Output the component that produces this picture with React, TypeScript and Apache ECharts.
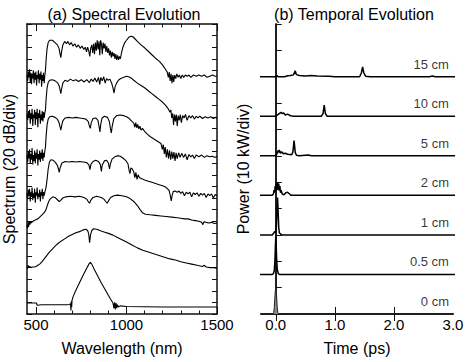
import React, { useEffect, useRef } from "react";
import * as echarts from "echarts";

const FONT = "Arial";

// ---- Panel (a): spectra, stacked, y in tick units (20 dB/div) ----
const wlMajor = [500, 1000, 1500];
const wlMinor = [600, 700, 800, 900, 1100, 1200, 1300, 1400];

const spec15: number[][] = [[450,20.6],[454,20.1],[457,20.9],[461,20.4],[464,21.1],[468,20.0],[471,20.8],[475,19.8],[478,20.7],[482,20.3],[485,21.0],[489,19.9],[492,20.8],[496,20.2],[499,20.9],[503,19.7],[506,20.6],[510,20.3],[513,21.0],[517,19.9],[520,20.7],[524,20.2],[527,20.9],[531,19.6],[534,20.6],[538,20.1],[541,20.8],[545,19.9],[548,20.5],[552,21.0],[556,22.0],[561,22.9],[567,23.4],[575,23.6],[590,23.6],[605,23.4],[618,23.2],[627,22.9],[633,22.4],[637,22.1],[641,22.6],[648,23.2],[658,23.5],[668,23.3],[676,23.5],[685,23.2],[694,23.4],[704,23.1],[714,23.3],[724,23.0],[734,23.2],[744,22.9],[754,23.1],[764,22.8],[772,23.0],[779,22.6],[785,23.0],[791,22.7],[797,22.2],[802,22.9],[808,23.2],[813,22.5],[818,23.3],[823,22.4],[828,23.4],[833,22.7],[838,23.6],[843,22.8],[848,23.5],[852,22.3],[857,23.6],[862,23.2],[866,22.4],[871,23.4],[876,22.9],[881,23.3],[886,22.6],[891,23.1],[896,22.5],[901,22.9],[906,22.3],[911,22.7],[916,22.1],[921,22.6],[926,22.2],[931,22.5],[936,22.0],[941,22.4],[946,21.9],[951,22.3],[956,21.9],[961,22.2],[966,22.0],[972,22.5],[980,23.0],[990,23.4],[1000,23.6],[1012,23.85],[1025,23.95],[1035,23.9],[1045,23.75],[1060,23.5],[1080,23.2],[1100,22.95],[1120,22.65],[1140,22.35],[1160,22.05],[1180,21.8],[1200,21.45],[1215,21.1],[1225,20.85],[1231,20.4],[1236,20.85],[1241,20.1],[1246,20.7],[1251,19.9],[1256,20.6],[1261,20.0],[1266,20.6],[1272,20.3],[1278,20.7],[1285,20.4],[1292,20.6],[1300,20.3],[1308,20.6],[1316,20.4],[1325,20.6],[1335,20.5],[1345,20.6],[1355,20.4],[1370,20.6],[1385,20.5],[1400,20.6],[1415,20.5],[1430,20.6],[1445,20.4],[1460,20.5],[1475,20.6],[1490,20.5],[1500,20.5]];

const spec10: number[][] = [[450,17.2],[454,16.7],[457,17.5],[461,16.9],[464,17.6],[468,16.4],[471,17.3],[475,16.8],[478,17.7],[482,16.2],[485,17.2],[489,16.9],[492,17.6],[496,16.3],[499,17.4],[503,16.8],[506,17.7],[510,16.1],[513,17.3],[517,16.9],[520,17.6],[524,16.4],[527,17.2],[531,16.7],[534,17.5],[538,16.6],[541,17.4],[545,16.9],[548,17.3],[552,17.6],[556,18.6],[561,19.5],[567,19.95],[575,20.15],[590,20.2],[605,20.1],[618,19.95],[627,19.7],[633,19.3],[637,19.0],[641,19.4],[648,19.9],[660,20.15],[675,20.05],[690,20.25],[705,20.1],[720,20.2],[735,20.05],[750,20.2],[765,20.0],[780,20.2],[795,19.95],[805,20.25],[815,20.05],[825,20.35],[835,20.0],[845,20.4],[852,19.8],[858,20.4],[866,20.1],[874,20.45],[882,19.9],[890,20.3],[898,20.15],[908,20.25],[918,19.9],[925,19.5],[931,19.05],[937,19.6],[945,19.9],[955,20.15],[968,20.3],[985,20.4],[1000,20.5],[1012,20.45],[1025,20.35],[1040,20.15],[1060,19.9],[1080,19.7],[1100,19.5],[1120,19.25],[1140,19.0],[1160,18.75],[1180,18.5],[1200,18.25],[1215,18.0],[1230,17.7],[1240,17.4],[1245,17.6],[1250,16.9],[1255,17.3],[1260,16.3],[1265,17.2],[1270,16.6],[1275,17.2],[1280,16.2],[1285,17.1],[1291,16.7],[1297,17.2],[1303,16.5],[1310,17.1],[1318,16.9],[1326,17.2],[1335,16.7],[1345,17.1],[1355,16.9],[1365,17.1],[1375,16.8],[1385,17.05],[1395,16.9],[1405,17.05],[1420,16.85],[1435,17.0],[1450,16.9],[1465,17.0],[1480,16.85],[1490,16.95],[1500,16.9]];

const spec5: number[][] = [[450,13.7],[454,13.1],[457,14.0],[461,13.4],[464,14.2],[468,13.0],[471,13.8],[475,13.3],[478,14.3],[482,12.9],[485,13.7],[489,13.2],[492,14.1],[496,13.0],[499,13.9],[503,13.4],[506,14.2],[510,12.8],[513,13.8],[517,13.3],[520,14.1],[524,13.1],[527,13.9],[531,13.4],[534,14.2],[538,13.2],[541,13.9],[545,13.5],[548,14.0],[552,14.4],[556,15.4],[561,16.3],[567,16.8],[575,17.0],[590,17.05],[605,16.95],[617,16.8],[627,16.5],[633,16.1],[637,15.85],[641,16.2],[648,16.65],[660,16.9],[680,16.95],[700,16.9],[720,16.95],[740,16.9],[760,16.85],[775,16.8],[788,16.6],[795,16.2],[800,16.0],[805,16.5],[815,16.85],[830,16.9],[842,16.7],[848,16.2],[853,15.7],[858,16.4],[865,16.9],[878,17.05],[895,16.95],[905,16.6],[911,16.0],[916,15.6],[921,16.2],[930,16.85],[945,17.1],[965,17.15],[985,17.1],[1000,17.0],[1015,16.85],[1030,16.6],[1040,16.45],[1046,16.1],[1051,16.5],[1057,16.05],[1062,16.35],[1068,15.95],[1074,16.2],[1080,15.85],[1088,16.0],[1100,15.75],[1115,15.5],[1130,15.3],[1145,15.15],[1160,15.0],[1175,14.85],[1190,14.7],[1198,14.2],[1203,14.6],[1209,13.8],[1214,14.4],[1220,13.5],[1226,14.2],[1232,13.4],[1238,14.1],[1244,13.3],[1250,14.0],[1256,13.4],[1262,13.95],[1268,13.2],[1274,13.9],[1280,13.4],[1288,13.9],[1296,13.5],[1305,13.85],[1315,13.5],[1325,13.8],[1335,13.3],[1345,13.75],[1355,13.55],[1365,13.7],[1375,13.4],[1385,13.7],[1400,13.55],[1415,13.7],[1430,13.5],[1445,13.65],[1460,13.55],[1475,13.6],[1490,13.5],[1500,13.6]];

const spec2: number[][] = [[450,10.4],[454,9.9],[457,10.7],[461,10.2],[464,10.8],[468,9.7],[471,10.5],[475,10.1],[478,10.9],[482,9.8],[485,10.4],[489,10.0],[492,10.8],[496,9.6],[499,10.5],[503,10.2],[506,10.9],[510,9.9],[513,10.4],[517,10.1],[520,10.7],[524,9.7],[527,10.5],[531,10.2],[534,10.8],[538,9.9],[541,10.5],[545,10.2],[550,10.6],[555,10.9],[561,11.6],[567,12.5],[574,13.1],[582,13.3],[595,13.25],[608,13.05],[618,12.8],[624,12.5],[628,12.2],[633,12.6],[642,13.0],[660,13.15],[680,13.1],[700,13.15],[720,13.1],[740,13.15],[760,13.1],[780,13.05],[792,12.85],[798,12.45],[803,12.9],[815,13.15],[830,13.25],[845,13.15],[855,12.9],[861,12.3],[866,12.85],[878,13.2],[890,13.25],[900,13.0],[906,12.5],[911,12.95],[920,13.35],[935,13.55],[950,13.65],[965,13.6],[980,13.45],[995,13.25],[1008,12.95],[1014,12.4],[1019,12.1],[1024,12.6],[1032,12.5],[1040,12.25],[1046,11.75],[1052,12.2],[1058,11.6],[1064,12.0],[1072,11.75],[1085,11.65],[1100,11.55],[1120,11.45],[1140,11.35],[1160,11.25],[1180,11.15],[1200,11.05],[1220,10.9],[1235,10.65],[1242,10.2],[1247,9.75],[1252,10.2],[1258,10.55],[1268,10.6],[1280,10.5],[1290,10.6],[1300,10.4],[1310,10.55],[1320,10.2],[1330,10.5],[1340,10.35],[1350,10.5],[1360,10.1],[1370,10.45],[1380,10.3],[1390,10.45],[1400,10.15],[1410,10.4],[1420,10.25],[1430,10.4],[1440,10.05],[1450,10.35],[1460,10.2],[1470,10.35],[1480,10.0],[1490,10.3],[1500,10.2]];

const spec1: number[][] = [[450,7.7],[453,7.4],[456,7.9],[459,7.5],[462,8.0],[466,7.7],[470,7.95],[475,7.85],[482,8.0],[490,8.05],[500,8.15],[510,8.2],[520,8.35],[530,8.5],[540,8.65],[548,8.8],[555,9.0],[562,9.35],[570,9.7],[580,9.95],[592,10.1],[605,10.05],[618,9.85],[628,9.7],[636,9.8],[648,10.0],[665,10.1],[690,10.15],[715,10.1],[740,10.15],[765,10.05],[780,9.9],[790,9.65],[796,9.55],[802,9.8],[815,10.05],[835,10.15],[860,10.05],[875,9.9],[885,9.7],[893,9.55],[900,9.75],[912,10.05],[930,10.2],[950,10.25],[975,10.2],[1000,10.1],[1020,9.95],[1040,9.7],[1060,9.35],[1075,9.0],[1090,8.7],[1105,8.6],[1130,8.55],[1160,8.5],[1190,8.45],[1220,8.4],[1250,8.35],[1280,8.3],[1300,8.25],[1320,8.2],[1340,8.2],[1360,8.1],[1380,8.05],[1400,8.0],[1415,7.9],[1422,7.7],[1428,7.95],[1440,7.9],[1455,7.85],[1470,7.9],[1485,7.8],[1500,7.85]];

const spec05: number[][] = [[450,4.1],[453,3.9],[456,4.2],[460,4.0],[465,4.1],[472,4.0],[480,4.05],[490,4.05],[500,4.1],[510,4.2],[520,4.3],[532,4.5],[545,4.75],[560,5.05],[575,5.35],[590,5.6],[605,5.85],[623,6.1],[640,6.3],[660,6.5],[680,6.7],[700,6.85],[720,7.0],[740,7.1],[760,7.25],[775,7.3],[785,7.2],[791,6.9],[796,6.15],[801,6.8],[808,7.2],[818,7.35],[835,7.3],[860,7.15],[880,7.05],[900,6.95],[925,6.8],[950,6.6],[975,6.4],[1000,6.2],[1030,5.95],[1060,5.7],[1090,5.5],[1120,5.35],[1150,5.2],[1180,5.05],[1210,4.9],[1240,4.75],[1270,4.65],[1300,4.5],[1330,4.4],[1360,4.3],[1390,4.2],[1420,4.1],[1430,4.2],[1440,4.05],[1460,4.0],[1480,4.0],[1500,3.95]];

const spec0: number[][] = [[450,0.95],[470,0.95],[490,0.95],[503,0.95],[505,0.75],[530,0.8],[560,0.8],[600,0.8],[640,0.8],[670,0.8],[685,0.82],[690,0.9],[693,0.3],[695,1.1],[697,0.6],[699,1.2],[705,1.5],[720,2.05],[740,2.7],[760,3.35],[780,3.95],[792,4.3],[800,4.45],[808,4.3],[820,3.9],[840,3.3],[860,2.7],[880,2.15],[900,1.6],[915,1.2],[925,0.95],[930,0.5],[934,1.0],[938,0.4],[942,0.95],[946,0.5],[950,0.8],[955,0.6],[965,0.7],[1000,0.65],[1100,0.63],[1200,0.6],[1300,0.6],[1400,0.6],[1500,0.6]];

const spectra = [spec0, spec05, spec1, spec2, spec5, spec10, spec15];

// ---- Panel (b): temporal power, relative to each trace's baseline (10 kW/div) ----
const timeTicks = [0, 1, 2];
const timeLabels = [0, 1, 2, 3];
const pulseNames = ["0 cm", "0.5 cm", "1 cm", "2 cm", "5 cm", "10 cm", "15 cm"];
const pulseOffsets = [0, 1.5, 3, 4.5, 6, 7.5, 9];

const pulse0: number[][] = [[-0.3,0],[-0.05,0],[-0.035,0.05],[-0.025,0.25],[-0.016,0.6],[-0.008,0.88],[0,0.98],[0.008,0.88],[0.016,0.6],[0.025,0.25],[0.035,0.05],[0.05,0],[3.1,0]];
const pulse05: number[][] = [[-0.3,0],[-0.06,0],[-0.04,0.03],[-0.025,0.15],[-0.015,0.5],[-0.007,1.0],[0,1.43],[0.007,1.1],[0.015,0.6],[0.025,0.2],[0.04,0.05],[0.06,0],[3.1,0]];
const pulse1: number[][] = [[-0.3,0],[-0.06,0],[-0.04,0.05],[-0.02,0.12],[0,0.1],[0.01,0.3],[0.02,0.9],[0.03,1.42],[0.04,0.9],[0.05,0.3],[0.06,0.08],[0.08,0.04],[0.1,0],[3.1,0]];
const pulse2: number[][] = [[-0.3,0],[-0.06,0],[-0.04,0.05],[-0.03,0.2],[-0.02,0.1],[-0.01,0.35],[0,0.15],[0.01,0.45],[0.02,0.2],[0.03,0.48],[0.04,0.22],[0.05,0.45],[0.06,0.18],[0.07,0.35],[0.08,0.1],[0.09,0.2],[0.11,0.05],[0.14,0.02],[0.17,0.1],[0.2,0.12],[0.23,0.06],[0.26,0],[3.1,0]];
const pulse5: number[][] = [[-0.3,0],[0,0],[0.02,0.08],[0.04,0.2],[0.05,0.12],[0.06,0.22],[0.08,0.1],[0.1,0.15],[0.13,0.08],[0.16,0.1],[0.2,0.06],[0.24,0.05],[0.27,0.04],[0.29,0.15],[0.31,0.58],[0.33,0.12],[0.35,0.02],[0.4,0],[0.5,0.02],[0.55,0.03],[0.6,0],[3.1,0]];
const pulse10: number[][] = [[-0.3,0],[0,0],[0.03,0.05],[0.06,0.1],[0.09,0.15],[0.11,0.1],[0.13,0.13],[0.16,0.05],[0.2,0.08],[0.25,0.02],[0.3,0],[0.77,0],[0.8,0.1],[0.82,0.42],[0.84,0.1],[0.87,0],[3.1,0]];
const pulse15: number[][] = [[-0.3,0],[0,0],[0.02,0.05],[0.04,0],[0.15,0],[0.2,0.04],[0.25,0.05],[0.3,0.07],[0.33,0.22],[0.35,0.08],[0.4,0.05],[0.5,0.03],[0.6,0.05],[0.7,0.03],[0.9,0.02],[1.0,0],[1.42,0],[1.45,0.15],[1.47,0.37],[1.49,0.15],[1.52,0.02],[1.6,0],[2.6,0],[2.65,0.03],[2.7,0],[3.1,0]];

const pulses = [pulse0, pulse05, pulse1, pulse2, pulse5, pulse10, pulse15];

const G0 = { left: 25, top: 24, width: 192, height: 290 };
const G1 = { left: 261, top: 24, width: 192, height: 290 };

export default function App() {
  const ref = useRef<HTMLDivElement>(null);
  useEffect(() => {
    document.body.style.margin = "0";
    if (!ref.current) return;
    const chart = echarts.init(ref.current, undefined, { renderer: "svg" });
    const axisLine = { show: true, lineStyle: { color: "#111", width: 1.5 } };
    const tickStyle = { color: "#111", width: 1 };
    const labelStyle = { fontFamily: FONT, fontSize: 15, color: "#000" };
    const nameStyle = { fontFamily: FONT, fontSize: 16, color: "#000" };

    const xAxes: any[] = [
      {
        gridIndex: 0, type: "value", position: "bottom", min: 450, max: 1500,
        axisLine, splitLine: { show: false },
        axisTick: { show: true, inside: true, length: 7, lineStyle: tickStyle, customValues: wlMajor },
        axisLabel: { ...labelStyle, margin: 3, customValues: wlMajor, formatter: (v: number) => String(v) },
        name: "Wavelength (nm)", nameLocation: "middle", nameGap: 26, nameTextStyle: nameStyle,
      },
      {
        gridIndex: 0, type: "value", position: "bottom", min: 450, max: 1500,
        axisLine: { show: false }, splitLine: { show: false }, axisLabel: { show: false },
        axisTick: { show: true, inside: true, length: 3.5, lineStyle: tickStyle, customValues: wlMinor },
      },
      {
        gridIndex: 0, type: "value", position: "top", min: 450, max: 1500,
        axisLine, splitLine: { show: false }, axisLabel: { show: false },
        axisTick: { show: true, inside: true, length: 7, lineStyle: tickStyle, customValues: wlMajor },
      },
      {
        gridIndex: 0, type: "value", position: "top", min: 450, max: 1500,
        axisLine: { show: false }, splitLine: { show: false }, axisLabel: { show: false },
        axisTick: { show: true, inside: true, length: 3.5, lineStyle: tickStyle, customValues: wlMinor },
      },
      {
        gridIndex: 1, type: "value", position: "bottom", min: -0.25, max: 3,
        axisLine, splitLine: { show: false },
        axisTick: { show: true, inside: true, length: 7, lineStyle: tickStyle, customValues: timeTicks },
        axisLabel: { ...labelStyle, margin: 3, customValues: timeLabels, formatter: (v: number) => v.toFixed(1) },
        name: "Time (ps)", nameLocation: "middle", nameGap: 26, nameTextStyle: nameStyle,
      },
      {
        gridIndex: 1, type: "value", position: "top", min: -0.25, max: 3,
        axisLine, splitLine: { show: false }, axisLabel: { show: false },
        axisTick: { show: true, inside: true, length: 7, lineStyle: tickStyle, customValues: timeTicks },
      },
    ];

    const yAxes: any[] = [
      {
        gridIndex: 0, type: "value", position: "left", min: 0, max: 25, interval: 1,
        axisLine, splitLine: { show: false }, axisLabel: { show: false },
        axisTick: { show: true, inside: true, length: 5, lineStyle: tickStyle },
        name: "Spectrum (20 dB/div)", nameLocation: "middle", nameGap: 10, nameTextStyle: nameStyle,
      },
      {
        gridIndex: 0, type: "value", position: "right", min: 0, max: 25, interval: 1,
        axisLine, splitLine: { show: false }, axisLabel: { show: false },
        axisTick: { show: true, inside: true, length: 5, lineStyle: tickStyle },
      },
      {
        gridIndex: 1, type: "value", position: "left", min: 0, max: 11, interval: 1,
        axisLine, splitLine: { show: false }, axisLabel: { show: false },
        axisTick: { show: true, inside: true, length: 6, lineStyle: tickStyle },
        name: "Power (10 kW/div)", nameLocation: "middle", nameGap: 10, nameTextStyle: nameStyle,
      },
      {
        gridIndex: 1, type: "value", position: "right", min: 0, max: 11,
        axisLine, splitLine: { show: false }, axisLabel: { show: false }, axisTick: { show: false },
      },
    ];

    const series: any[] = [];
    spectra.forEach((d) => {
      series.push({
        type: "line", xAxisIndex: 0, yAxisIndex: 0, data: d, showSymbol: false,
        lineStyle: { color: "#000", width: 1.1 }, silent: true,
      });
    });
    pulses.forEach((d, i) => {
      series.push({
        type: "line", xAxisIndex: 4, yAxisIndex: 2, showSymbol: false, silent: true,
        data: d.map((p) => [p[0], p[1] + pulseOffsets[i]]),
        lineStyle: { color: i === 0 ? "#222" : "#000", width: i === 0 ? 1 : 1.5 },
        areaStyle: i === 0 ? { color: "#8a8a8a", opacity: 1 } : undefined,
      });
    });
    series.push({
      type: "scatter", xAxisIndex: 4, yAxisIndex: 2, symbolSize: 1, silent: true,
      itemStyle: { color: "rgba(0,0,0,0)" },
      data: pulseNames.map((n, i) => ({ name: n, value: [2.94, pulseOffsets[i] + 0.48] })),
      label: {
        show: true, position: "left", distance: 0, formatter: "{b}",
        fontFamily: FONT, fontSize: 13, color: "#000",
      },
    });

    chart.setOption({
      animation: false,
      backgroundColor: "#fff",
      textStyle: { fontFamily: FONT },
      grid: [G0, G1],
      xAxis: xAxes,
      yAxis: yAxes,
      series,
      graphic: [
        {
          type: "text", x: 124, y: 14,
          style: { text: "(a) Spectral Evolution", fontFamily: FONT, fontSize: 16, fill: "#000", textAlign: "center", textVerticalAlign: "middle" },
        },
        {
          type: "text", x: 354, y: 14,
          style: { text: "(b) Temporal Evolution", fontFamily: FONT, fontSize: 16, fill: "#000", textAlign: "center", textVerticalAlign: "middle" },
        },
      ],
    });
    return () => chart.dispose();
  }, []);
  return <div ref={ref} style={{ width: 474, height: 362 }} />;
}
